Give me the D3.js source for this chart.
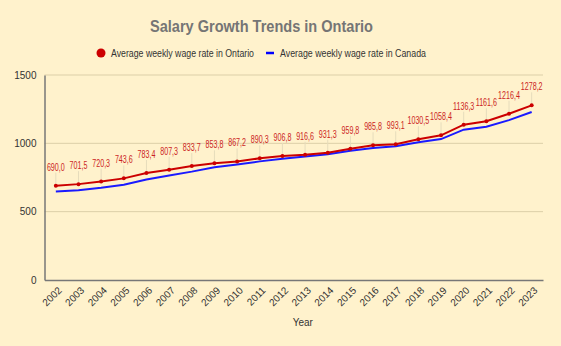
<!DOCTYPE html>
<meta charset="utf-8">
<style>
    body { margin: 0; background: #fff2cc; }
    svg { display: block; font-family: "Liberation Sans", Arial, sans-serif; }
</style>
<script src="https://d3js.org/d3.v7.min.js"></script>
<div id="chart"></div>
<script>

    // weekly wage data, 2002-2023
    var years = ["2002","2003","2004","2005","2006","2007","2008","2009","2010","2011","2012",
                 "2013","2014","2015","2016","2017","2018","2019","2020","2021","2022","2023"];
    var ontario = [690.0, 701.5, 720.3, 743.6, 783.4, 807.3, 833.7, 853.8, 867.2, 890.3, 906.8,
                   916.6, 931.3, 959.8, 985.8, 993.1, 1030.5, 1058.4, 1136.3, 1161.6, 1216.4, 1278.2];
    var canada = [648, 657, 675, 697, 735, 765, 793, 825, 845, 868, 888,
                  903, 920, 945, 965, 978, 1008, 1031, 1100, 1122, 1170, 1229];
    var yTicks = [0, 500, 1000, 1500];

    var W = 561, H = 346;
    var margin = {top: 75, right: 18, bottom: 66, left: 44.5},
        width = W - margin.left - margin.right,
        height = H - margin.top - margin.bottom;

    var svg = d3.select("#chart").append("svg")
        .attr("width", W)
        .attr("height", H);

    svg.append("rect").attr("width", W).attr("height", H).attr("fill", "#fff2cc");

    // title
    svg.append("text")
        .attr("x", 150)
        .attr("y", 32)
        .attr("textLength", 223)
        .attr("lengthAdjust", "spacingAndGlyphs")
        .style("font-size", "17px")
        .style("font-weight", "bold")
        .style("fill", "#757575")
        .text("Salary Growth Trends in Ontario");

    // legend
    var legend = svg.append("g").style("font-size", "10px").style("fill", "#333");
    legend.append("circle").attr("cx", 101).attr("cy", 53).attr("r", 4.5).attr("fill", "#cc0000");
    legend.append("text").attr("x", 111).attr("y", 56.5)
        .attr("textLength", 143).attr("lengthAdjust", "spacingAndGlyphs")
        .text("Average weekly wage rate in Ontario");
    legend.append("line").attr("x1", 266).attr("x2", 274).attr("y1", 53).attr("y2", 53)
        .attr("stroke", "#0000ff").attr("stroke-width", 2.5);
    legend.append("text").attr("x", 280).attr("y", 56.5)
        .attr("textLength", 146).attr("lengthAdjust", "spacingAndGlyphs")
        .text("Average weekly wage rate in Canada");

    var g = svg.append("g")
        .attr("transform", "translate(" + margin.left + "," + margin.top + ")");

    var x = d3.scalePoint()
        .domain(years)
        .range([0, width])
        .padding(0.5);

    var y = d3.scaleLinear()
        .domain([0, 1500])
        .range([height, 0]);

    // gridlines
    g.selectAll(".grid")
        .data(yTicks.slice(1))
        .enter().append("line")
        .attr("x1", 0).attr("x2", width)
        .attr("y1", function(d) { return y(d); })
        .attr("y2", function(d) { return y(d); })
        .attr("stroke", "#dccfa8")
        .attr("stroke-width", 1);

    // y axis
    var yAxis = g.append("g")
        .call(d3.axisLeft(y).tickValues(yTicks).tickFormat(d3.format("d")).tickSize(0).tickPadding(8));
    yAxis.select(".domain").attr("stroke", "#777").attr("stroke-width", 1.5);
    yAxis.selectAll("text").style("font-size", "10px").style("fill", "#333")
        .style("font-family", "Liberation Sans, Arial, sans-serif");

    // x axis
    var xAxis = g.append("g")
        .attr("transform", "translate(0," + height + ")")
        .call(d3.axisBottom(x).tickSize(0).tickSizeOuter(0));
    xAxis.select(".domain").attr("stroke", "#777").attr("stroke-width", 1.5);
    xAxis.selectAll("text")
        .style("font-size", "10px").style("fill", "#333")
        .style("font-family", "Liberation Sans, Arial, sans-serif")
        .attr("text-anchor", "end")
        .attr("dy", null)
        .attr("y", 0)
        .attr("transform", "translate(6,11) rotate(-45)");

    g.append("text")
        .attr("x", width / 2 + 9)
        .attr("y", height + 46)
        .attr("text-anchor", "middle")
        .style("font-size", "10px")
        .style("fill", "#333")
        .text("Year");

    var line = d3.line()
        .x(function(d, i) { return x(years[i]); })
        .y(function(d) { return y(d); });

    // leader lines from labels down to the Ontario points
    g.selectAll(".leader")
        .data(ontario)
        .enter().append("line")
        .attr("x1", function(d, i) { return x(years[i]); })
        .attr("x2", function(d, i) { return x(years[i]); })
        .attr("y1", function(d) { return y(d) - 13; })
        .attr("y2", function(d) { return y(d); })
        .attr("stroke", "#e6dcbc")
        .attr("stroke-width", 1);

    g.append("path")
        .datum(canada)
        .attr("fill", "none")
        .attr("stroke", "#1a1aff")
        .attr("stroke-width", 2)
        .attr("d", line);

    g.append("path")
        .datum(ontario)
        .attr("fill", "none")
        .attr("stroke", "#cc0000")
        .attr("stroke-width", 2)
        .attr("d", line);

    g.selectAll(".dot")
        .data(ontario)
        .enter().append("circle")
        .attr("cx", function(d, i) { return x(years[i]); })
        .attr("cy", function(d) { return y(d); })
        .attr("r", 2)
        .attr("fill", "#cc0000");

    g.selectAll(".lbl")
        .data(ontario)
        .enter().append("text")
        .attr("transform", function(d, i) {
            return "translate(" + x(years[i]) + "," + (y(d) - 15) + ") scale(0.68,1)";
        })
        .attr("text-anchor", "middle")
        .style("font-size", "10.5px")
        .style("fill", "#cc1f1f")
        .text(function(d) { return d.toFixed(1).replace(".", ","); });

</script>
